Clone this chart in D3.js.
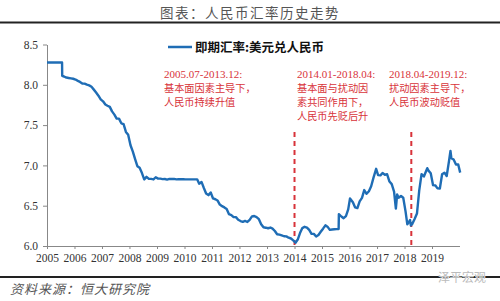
<!DOCTYPE html>
<html><head><meta charset="utf-8">
<script src="https://cdn.jsdelivr.net/npm/d3@7"></script>
<style>
html,body{margin:0;padding:0;background:#fff;}
svg{display:block;}
</style></head>
<body>
<script>
const title = "图表：人民币汇率历史走势";
const seriesName = "即期汇率:美元兑人民币";
const source = "资料来源：恒大研究院";
const watermark = "泽平宏观";
const yTicks = [6.0, 6.5, 7.0, 7.5, 8.0, 8.5];
const xTickYears = [2005,2006,2007,2008,2009,2010,2011,2012,2013,2014,2015,2016,2017,2018,2019];
const dates = [
"2005-01-01","2005-07-20","2005-07-22","2005-08-15","2005-09-15","2005-10-15","2005-11-15","2005-12-15",
"2006-01-15","2006-02-15","2006-03-15","2006-04-15","2006-05-15","2006-06-15","2006-07-15","2006-08-15","2006-09-15","2006-10-15","2006-11-15","2006-12-15",
"2007-01-15","2007-02-15","2007-03-15","2007-04-15","2007-05-15","2007-06-15","2007-07-15","2007-08-15","2007-09-15","2007-10-15","2007-11-15","2007-12-15",
"2008-01-15","2008-02-15","2008-03-15","2008-04-15","2008-05-15","2008-06-15","2008-07-15","2008-08-15","2008-09-15","2008-10-15","2008-11-15","2008-12-15",
"2009-01-15","2009-02-15","2009-03-15","2009-04-15","2009-05-15","2009-06-15","2009-07-15","2009-08-15","2009-09-15","2009-10-15","2009-11-15","2009-12-15",
"2010-01-15","2010-02-15","2010-03-15","2010-04-15","2010-05-15","2010-06-18","2010-07-15","2010-08-15","2010-09-15","2010-10-15","2010-11-15","2010-12-15",
"2011-01-15","2011-02-15","2011-03-15","2011-04-15","2011-05-15","2011-06-15","2011-07-15","2011-08-15","2011-09-15","2011-10-15","2011-11-15","2011-12-15",
"2012-01-15","2012-02-15","2012-03-15","2012-04-15","2012-05-15","2012-06-15","2012-07-15","2012-08-15","2012-09-15","2012-10-15","2012-11-15","2012-12-15",
"2013-01-15","2013-02-15","2013-03-15","2013-04-15","2013-05-15","2013-06-15","2013-07-15","2013-08-15","2013-09-15","2013-10-15","2013-11-15","2013-12-15",
"2014-01-14","2014-02-15","2014-03-15","2014-04-15","2014-05-15","2014-06-15","2014-07-15","2014-08-15","2014-09-15","2014-10-15","2014-11-15","2014-12-15",
"2015-01-15","2015-02-15","2015-03-15","2015-04-15","2015-05-15","2015-06-15","2015-07-15","2015-08-10","2015-08-13","2015-09-15","2015-10-15","2015-11-15","2015-12-15",
"2016-01-08","2016-02-15","2016-03-15","2016-04-15","2016-05-15","2016-06-15","2016-07-15","2016-08-15","2016-09-15","2016-10-15","2016-11-15","2016-12-20",
"2017-01-15","2017-02-15","2017-03-15","2017-04-15","2017-05-15","2017-06-15","2017-07-15","2017-08-15","2017-09-08","2017-09-25","2017-10-15","2017-11-15","2017-12-15",
"2018-01-15","2018-02-07","2018-03-15","2018-03-26","2018-04-15","2018-05-15","2018-06-15","2018-07-15","2018-08-15","2018-09-15","2018-10-30","2018-11-15","2018-12-15",
"2019-01-15","2019-02-15","2019-03-15","2019-04-15","2019-05-15","2019-06-15","2019-07-15","2019-08-15","2019-09-03","2019-09-15","2019-10-15","2019-11-15","2019-12-15",
"2020-01-10"
];
const rates = [
8.277,8.277,8.111,8.103,8.090,8.085,8.080,8.075,
8.065,8.049,8.036,8.016,8.015,8.002,7.993,7.975,7.940,7.905,7.865,7.820,
7.795,7.755,7.740,7.726,7.670,7.630,7.580,7.580,7.522,7.512,7.415,7.380,
7.250,7.170,7.080,6.990,6.970,6.905,6.826,6.858,6.833,6.833,6.826,6.853,
6.836,6.836,6.830,6.831,6.824,6.833,6.832,6.833,6.827,6.828,6.828,6.828,
6.827,6.827,6.826,6.826,6.827,6.827,6.773,6.795,6.720,6.652,6.631,6.664,
6.590,6.580,6.565,6.514,6.494,6.479,6.460,6.394,6.383,6.358,6.358,6.325,
6.310,6.300,6.311,6.298,6.325,6.368,6.372,6.358,6.333,6.270,6.232,6.227,
6.220,6.229,6.216,6.186,6.146,6.141,6.132,6.121,6.119,6.103,6.093,6.070,
6.040,6.084,6.160,6.222,6.238,6.228,6.200,6.151,6.150,6.118,6.137,6.176,
6.215,6.256,6.240,6.200,6.205,6.208,6.209,6.210,6.395,6.366,6.345,6.372,6.455,
6.590,6.543,6.480,6.470,6.554,6.598,6.694,6.648,6.680,6.741,6.849,6.958,
6.880,6.876,6.905,6.884,6.890,6.800,6.768,6.675,6.465,6.640,6.600,6.620,6.598,
6.426,6.269,6.322,6.255,6.275,6.336,6.403,6.687,6.892,6.862,6.965,6.935,6.902,
6.755,6.750,6.715,6.713,6.890,6.910,6.868,7.056,7.180,7.090,7.072,7.012,7.011,
6.910
];
const periodDates = ["2014-01-01","2018-04-01"];
const notes = [
  {date:"2005-07-01", lines:["2005.07-2013.12:","基本面因素主导下，","人民币持续升值"]},
  {date:"2014-01-01", lines:["2014.01-2018.04:","基本面与扰动因","素共同作用下，","人民币先贬后升"]},
  {date:"2018-04-01", lines:["2018.04-2019.12:","扰动因素主导下，","人民币波动贬值"]}
];

const W = 500, H = 301;
const parse = d3.timeParse("%Y-%m-%d");
const data = dates.map((d,i)=>({date:parse(d), v:rates[i]}));

const svg = d3.select("body").append("svg").attr("width",W).attr("height",H);

// title and rules
svg.append("text").attr("x",250).attr("y",18).attr("text-anchor","middle")
  .attr("font-family","'Noto Sans CJK SC',sans-serif").attr("font-size",13.5)
  .attr("letter-spacing",1.5).attr("fill","#555").text(title);
svg.append("line").attr("x1",0).attr("x2",W).attr("y1",22.5).attr("y2",22.5).attr("stroke","#222").attr("stroke-width",2);
svg.append("line").attr("x1",0).attr("x2",W).attr("y1",277).attr("y2",277).attr("stroke","#222").attr("stroke-width",2);

const x = d3.scaleTime().domain([new Date(2005,0,1), new Date(2020,0,1)]).range([47, 459.5]);
const y = d3.scaleLinear().domain([6.0, 8.5]).range([246, 44.5]);

const serif = "'Liberation Serif','Times New Roman',serif";

// y axis
const yAxis = svg.append("g").attr("transform","translate(47,0)")
  .call(d3.axisLeft(y).tickValues(yTicks).tickFormat(d3.format(".1f")).tickSize(4).tickSizeOuter(0));
yAxis.select(".domain").attr("stroke","#888");
yAxis.selectAll(".tick line").attr("stroke","#888");
yAxis.selectAll("text").attr("font-family",serif).attr("font-size",11.5).attr("fill","#333").attr("x",-9);

// x axis
const xAxis = svg.append("g").attr("transform","translate(0,246)")
  .call(d3.axisBottom(x).tickValues(xTickYears.map(yr=>new Date(yr,0,1))).tickFormat(d3.timeFormat("%Y")).tickSize(3).tickSizeOuter(0));
xAxis.select(".domain").attr("stroke","#888");
xAxis.selectAll(".tick line").attr("stroke","#888");
xAxis.selectAll("text").attr("font-family",serif).attr("font-size",11.5).attr("fill","#333").attr("dy","0.9em");

// dashed period separators
svg.selectAll(".sep").data(periodDates).enter().append("line")
  .attr("x1",d=>x(parse(d))).attr("x2",d=>x(parse(d)))
  .attr("y1",132).attr("y2",246)
  .attr("stroke","#d8333a").attr("stroke-width",2).attr("stroke-dasharray","5,4");

// series line
const line = d3.line().x(d=>x(d.date)).y(d=>y(d.v));
svg.append("path").datum(data).attr("d",line).attr("fill","none")
  .attr("stroke","#1f6db5").attr("stroke-width",2.4).attr("stroke-linejoin","round");

// legend
svg.append("line").attr("x1",168).attr("x2",192).attr("y1",47).attr("y2",47).attr("stroke","#1f6db5").attr("stroke-width",2.5);
svg.append("text").attr("x",195).attr("y",51.5)
  .attr("font-family","'Noto Sans CJK SC',sans-serif").attr("font-size",12.5).attr("font-weight","bold")
  .attr("fill","#111").text(seriesName);

// annotations
const noteX = [164, 297, 389];
notes.forEach((n,i)=>{
  const t = svg.append("text").attr("fill","#d8333a");
  n.lines.forEach((ln,j)=>{
    t.append("tspan").attr("x",noteX[i]).attr("y",78 + j*14)
      .attr("font-family", j===0 ? serif : "'Noto Sans CJK SC',sans-serif")
      .attr("font-size", j===0 ? 11 : 10.2).text(ln);
  });
});

// footer
svg.append("text").attr("x",10).attr("y",294)
  .attr("font-family","'Noto Sans CJK SC',sans-serif").attr("font-size",13).attr("font-style","italic")
  .attr("fill","#555").attr("letter-spacing",1).text(source);

// watermark
svg.append("text").attr("x",438).attr("y",282)
  .attr("font-family","'Noto Sans CJK SC',sans-serif").attr("font-size",12)
  .attr("fill","#bbb").attr("stroke","#fff").attr("stroke-width",0.6).attr("paint-order","stroke").text(watermark);
</script>
</body></html>
